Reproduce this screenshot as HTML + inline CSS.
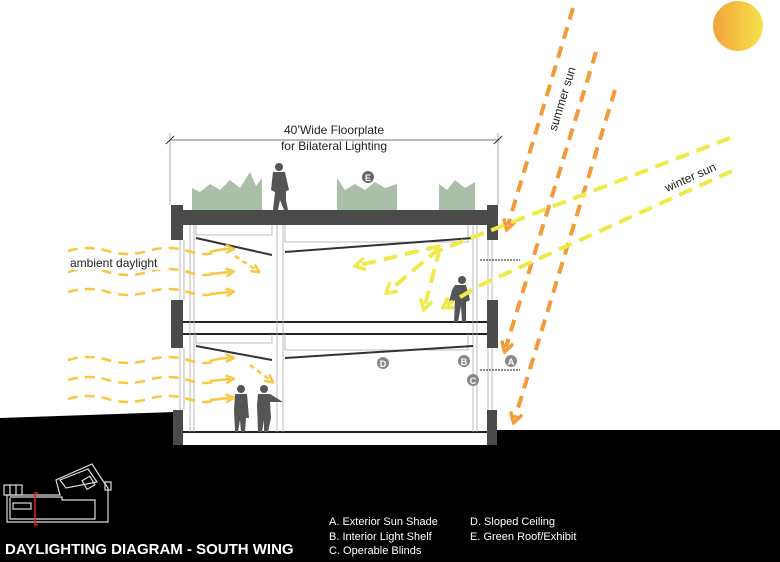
<!DOCTYPE html>
<html><head><meta charset="utf-8"><style>
html,body{margin:0;padding:0;background:#fff}
svg{display:block}
text{font-family:"Liberation Sans",sans-serif}
</style></head><body>
<svg width="780" height="562" viewBox="0 0 780 562" xmlns="http://www.w3.org/2000/svg">
<defs>
<linearGradient id="sun" x1="0" x2="1"><stop offset="0" stop-color="#f2a33c"/><stop offset="1" stop-color="#f5e34a"/></linearGradient>
<marker id="ao" markerWidth="14" markerHeight="14" refX="7" refY="7" orient="auto" markerUnits="userSpaceOnUse"><path d="M2,1 L12,7 L2,13" fill="none" stroke="#f39a3a" stroke-width="3.5"/></marker>
<marker id="ay" markerWidth="14" markerHeight="14" refX="7" refY="7" orient="auto" markerUnits="userSpaceOnUse"><path d="M2,1 L12,7 L2,13" fill="none" stroke="#eeea4a" stroke-width="3.5"/></marker>
<marker id="al" markerWidth="10" markerHeight="10" refX="5" refY="5" orient="auto" markerUnits="userSpaceOnUse"><path d="M1,1 L9,5 L1,9" fill="none" stroke="#f7c840" stroke-width="2.5"/></marker>
</defs>
<circle cx="738" cy="26" r="25" fill="url(#sun)"/>
<path d="M0,418 L175,412 L175,445 L490,445 L490,430 L780,430 L780,562 L0,562 Z" fill="#000"/>
<line x1="170" y1="140" x2="500" y2="140" stroke="#777" stroke-width="1"/>
<line x1="170" y1="133" x2="170" y2="205" stroke="#999" stroke-width="0.8"/>
<line x1="498" y1="133" x2="498" y2="205" stroke="#999" stroke-width="0.8"/>
<line x1="166" y1="144" x2="174" y2="136" stroke="#333"/>
<line x1="494" y1="144" x2="502" y2="136" stroke="#333"/>
<text x="334" y="134" font-size="12" text-anchor="middle" fill="#222">40’Wide Floorplate</text>
<text x="334" y="150" font-size="12" text-anchor="middle" fill="#222">for Bilateral Lighting</text>
<g fill="#9bb59a" opacity="0.85">
<path d="M192,210 L192,188 L200,192 L210,184 L220,190 L230,180 L240,188 L250,172 L256,186 L262,178 L262,210Z"/>
<path d="M337,210 L337,178 L345,190 L355,184 L365,190 L375,182 L385,188 L397,184 L397,210Z"/>
<path d="M439,210 L439,184 L447,190 L455,180 L465,188 L475,182 L475,210Z"/>
</g>
<g fill="#555">
<circle cx="279" cy="167" r="4"/>
<path d="M273,172 L285,172 L289,190 L286,191 L286,200 L288,210 L284,210 L280,200 L278,210 L273,210 L275,192 L271,190Z"/>
</g>
<circle cx="368" cy="177" r="6" fill="#666"/><text x="368" y="181" font-size="9" font-weight="bold" text-anchor="middle" fill="#fff">E</text>
<rect x="172" y="210" width="326" height="15" fill="#4a4a4a"/>
<rect x="171" y="205" width="12" height="35" fill="#4a4a4a"/>
<rect x="487" y="205" width="11" height="35" fill="#4a4a4a"/>
<rect x="171" y="300" width="12" height="48" fill="#4a4a4a"/>
<rect x="487" y="300" width="11" height="48" fill="#4a4a4a"/>
<line x1="183" y1="322" x2="487" y2="322" stroke="#222" stroke-width="2"/>
<line x1="183" y1="334" x2="487" y2="334" stroke="#222" stroke-width="2"/>
<rect x="173" y="410" width="10" height="35" fill="#4a4a4a"/>
<rect x="487" y="410" width="10" height="35" fill="#4a4a4a"/>
<line x1="183" y1="432" x2="487" y2="432" stroke="#222" stroke-width="2"/>
<g stroke="#aaa" stroke-width="0.8" fill="none">
<line x1="190" y1="225" x2="190" y2="432"/><line x1="194" y1="225" x2="194" y2="432"/>
<line x1="277" y1="225" x2="277" y2="432"/><line x1="283" y1="225" x2="283" y2="432"/>
<line x1="473" y1="225" x2="473" y2="432"/><line x1="477" y1="225" x2="477" y2="432"/>
<path d="M196,225 V235 H272 V225"/><path d="M285,225 V242 H468 V225"/>
<path d="M196,334 V343 H272 V334"/><path d="M285,334 V350 H468 V334"/>
<line x1="180" y1="240" x2="180" y2="300"/><line x1="184" y1="240" x2="184" y2="300"/>
<line x1="180" y1="348" x2="180" y2="410"/><line x1="184" y1="348" x2="184" y2="410"/>
<line x1="488" y1="240" x2="488" y2="300"/><line x1="492" y1="240" x2="492" y2="300"/>
<line x1="488" y1="348" x2="488" y2="410"/><line x1="492" y1="348" x2="492" y2="410"/>
</g>
<g stroke="#333" stroke-width="2">
<line x1="196" y1="238" x2="272" y2="255"/><line x1="285" y1="252" x2="473" y2="238"/>
<line x1="196" y1="346" x2="272" y2="360"/><line x1="285" y1="358" x2="473" y2="346"/>
</g>
<g stroke="#666" stroke-width="1.5"><line x1="480" y1="260" x2="520" y2="260" stroke-dasharray="2,1"/><line x1="480" y1="370" x2="520" y2="370" stroke-dasharray="2,1"/></g>
<circle cx="464" cy="361" r="6" fill="#888"/><text x="464" y="365" font-size="9" font-weight="bold" text-anchor="middle" fill="#fff">B</text>
<circle cx="473" cy="380" r="6" fill="#888"/><text x="473" y="384" font-size="9" font-weight="bold" text-anchor="middle" fill="#fff">C</text>
<circle cx="511" cy="361" r="6" fill="#888"/><text x="511" y="365" font-size="9" font-weight="bold" text-anchor="middle" fill="#fff">A</text>
<circle cx="383" cy="363" r="6" fill="#888"/><text x="383" y="367" font-size="9" font-weight="bold" text-anchor="middle" fill="#fff">D</text>
<g fill="#555">
<circle cx="462" cy="280" r="4"/><path d="M455,285 L466,285 L470,300 L466,302 L466,322 L462,322 L461,306 L458,322 L454,322 L455,300 L448,306 L452,290Z"/>
<circle cx="241" cy="389" r="4"/><path d="M235,394 L247,394 L249,418 L246,418 L245,432 L241,432 L240,420 L238,432 L235,432 L234,410Z"/>
<circle cx="264" cy="389" r="4"/><path d="M258,394 L270,394 L283,402 L270,402 L271,418 L268,432 L264,432 L264,420 L262,432 L258,432 L257,405Z"/>
</g>
<g stroke="#f7c840" stroke-width="2.5" fill="none" stroke-dasharray="10,7">
<path d="M68,251 q20,-6 40,0 t40,0 t40,0 t30,0"/>
<path d="M68,272 q20,-6 40,0 t40,0 t40,0 t30,0"/>
<path d="M68,292 q20,-6 40,0 t40,0 t40,0 t30,0"/>
<path d="M68,360 q20,-6 40,0 t40,0 t40,0 t30,0"/>
<path d="M68,380 q20,-6 40,0 t40,0 t40,0 t30,0"/>
<path d="M68,399 q20,-6 40,0 t40,0 t40,0 t30,0"/>
</g>
<g stroke="#f7c840" stroke-width="2.5" fill="none" marker-end="url(#al)">
<path d="M210,252 q10,-3 20,-3"/><path d="M210,274 l20,-2"/><path d="M210,294 l20,-2"/>
<path d="M210,361 q10,-3 20,-3"/><path d="M210,381 l20,-2"/><path d="M210,400 l20,-2"/>
<path d="M235,256 L256,270" stroke-dasharray="5,4"/><path d="M250,365 L270,380" stroke-dasharray="5,4"/>
</g>
<rect x="68" y="256" width="100" height="14" fill="#fff"/>
<text x="70" y="267" font-size="12" fill="#222">ambient daylight</text>
<g stroke="#f39a3a" stroke-width="4" fill="none" stroke-dasharray="12,8">
<line x1="573" y1="8" x2="508" y2="225" marker-end="url(#ao)"/>
<line x1="596" y1="52" x2="506" y2="347" marker-end="url(#ao)"/>
<line x1="615" y1="90" x2="515" y2="418" marker-end="url(#ao)"/>
</g>
<g stroke="#eeea4a" stroke-width="4" fill="none" stroke-dasharray="14,8">
<line x1="730" y1="138" x2="440" y2="250"/>
<line x1="732" y1="171" x2="470" y2="290"/>
<line x1="440" y1="246" x2="360" y2="265" marker-end="url(#ay)"/>
<line x1="440" y1="248" x2="390" y2="290" marker-end="url(#ay)"/>
<line x1="440" y1="248" x2="425" y2="305" marker-end="url(#ay)"/>
<line x1="472" y1="290" x2="447" y2="305" marker-end="url(#ay)"/>
</g>
<text transform="translate(566,100) rotate(-73)" font-size="12" fill="#222" text-anchor="middle">summer sun</text>
<text transform="translate(692,181) rotate(-24)" font-size="12" fill="#222" text-anchor="middle">winter sun</text>
<g stroke="#ddd" stroke-width="1.2" fill="none">
<rect x="4" y="485" width="18" height="10"/><line x1="10" y1="485" x2="10" y2="495"/><line x1="16" y1="485" x2="16" y2="495"/>
<path d="M7,495 V522 H108 V488 L101,478 L92,464 L56,480 L60,495 H7"/>
<path d="M10,498 V519 H95 V500 H62 V497 H10"/>
<rect x="13" y="503" width="18" height="6"/>
<path d="M60,480 L88,469 L97,482 L66,488 Z"/>
<rect x="84" y="478" width="9" height="10" transform="rotate(-30 88 483)"/>
<rect x="105" y="482" width="6" height="8"/>
</g>
<path d="M38,493 H35 V525 H38" stroke="#e02020" stroke-width="1.5" fill="none"/>
<text x="5" y="554" font-size="15" font-weight="bold" fill="#fff">DAYLIGHTING DIAGRAM - SOUTH WING</text>
<g font-size="11" fill="#fff">
<text x="329" y="525">A.  Exterior Sun Shade</text>
<text x="329" y="540">B.  Interior Light Shelf</text>
<text x="329" y="554">C.  Operable Blinds</text>
<text x="470" y="525">D.  Sloped Ceiling</text>
<text x="470" y="540">E.  Green Roof/Exhibit</text>
</g>
</svg>
</body></html>
